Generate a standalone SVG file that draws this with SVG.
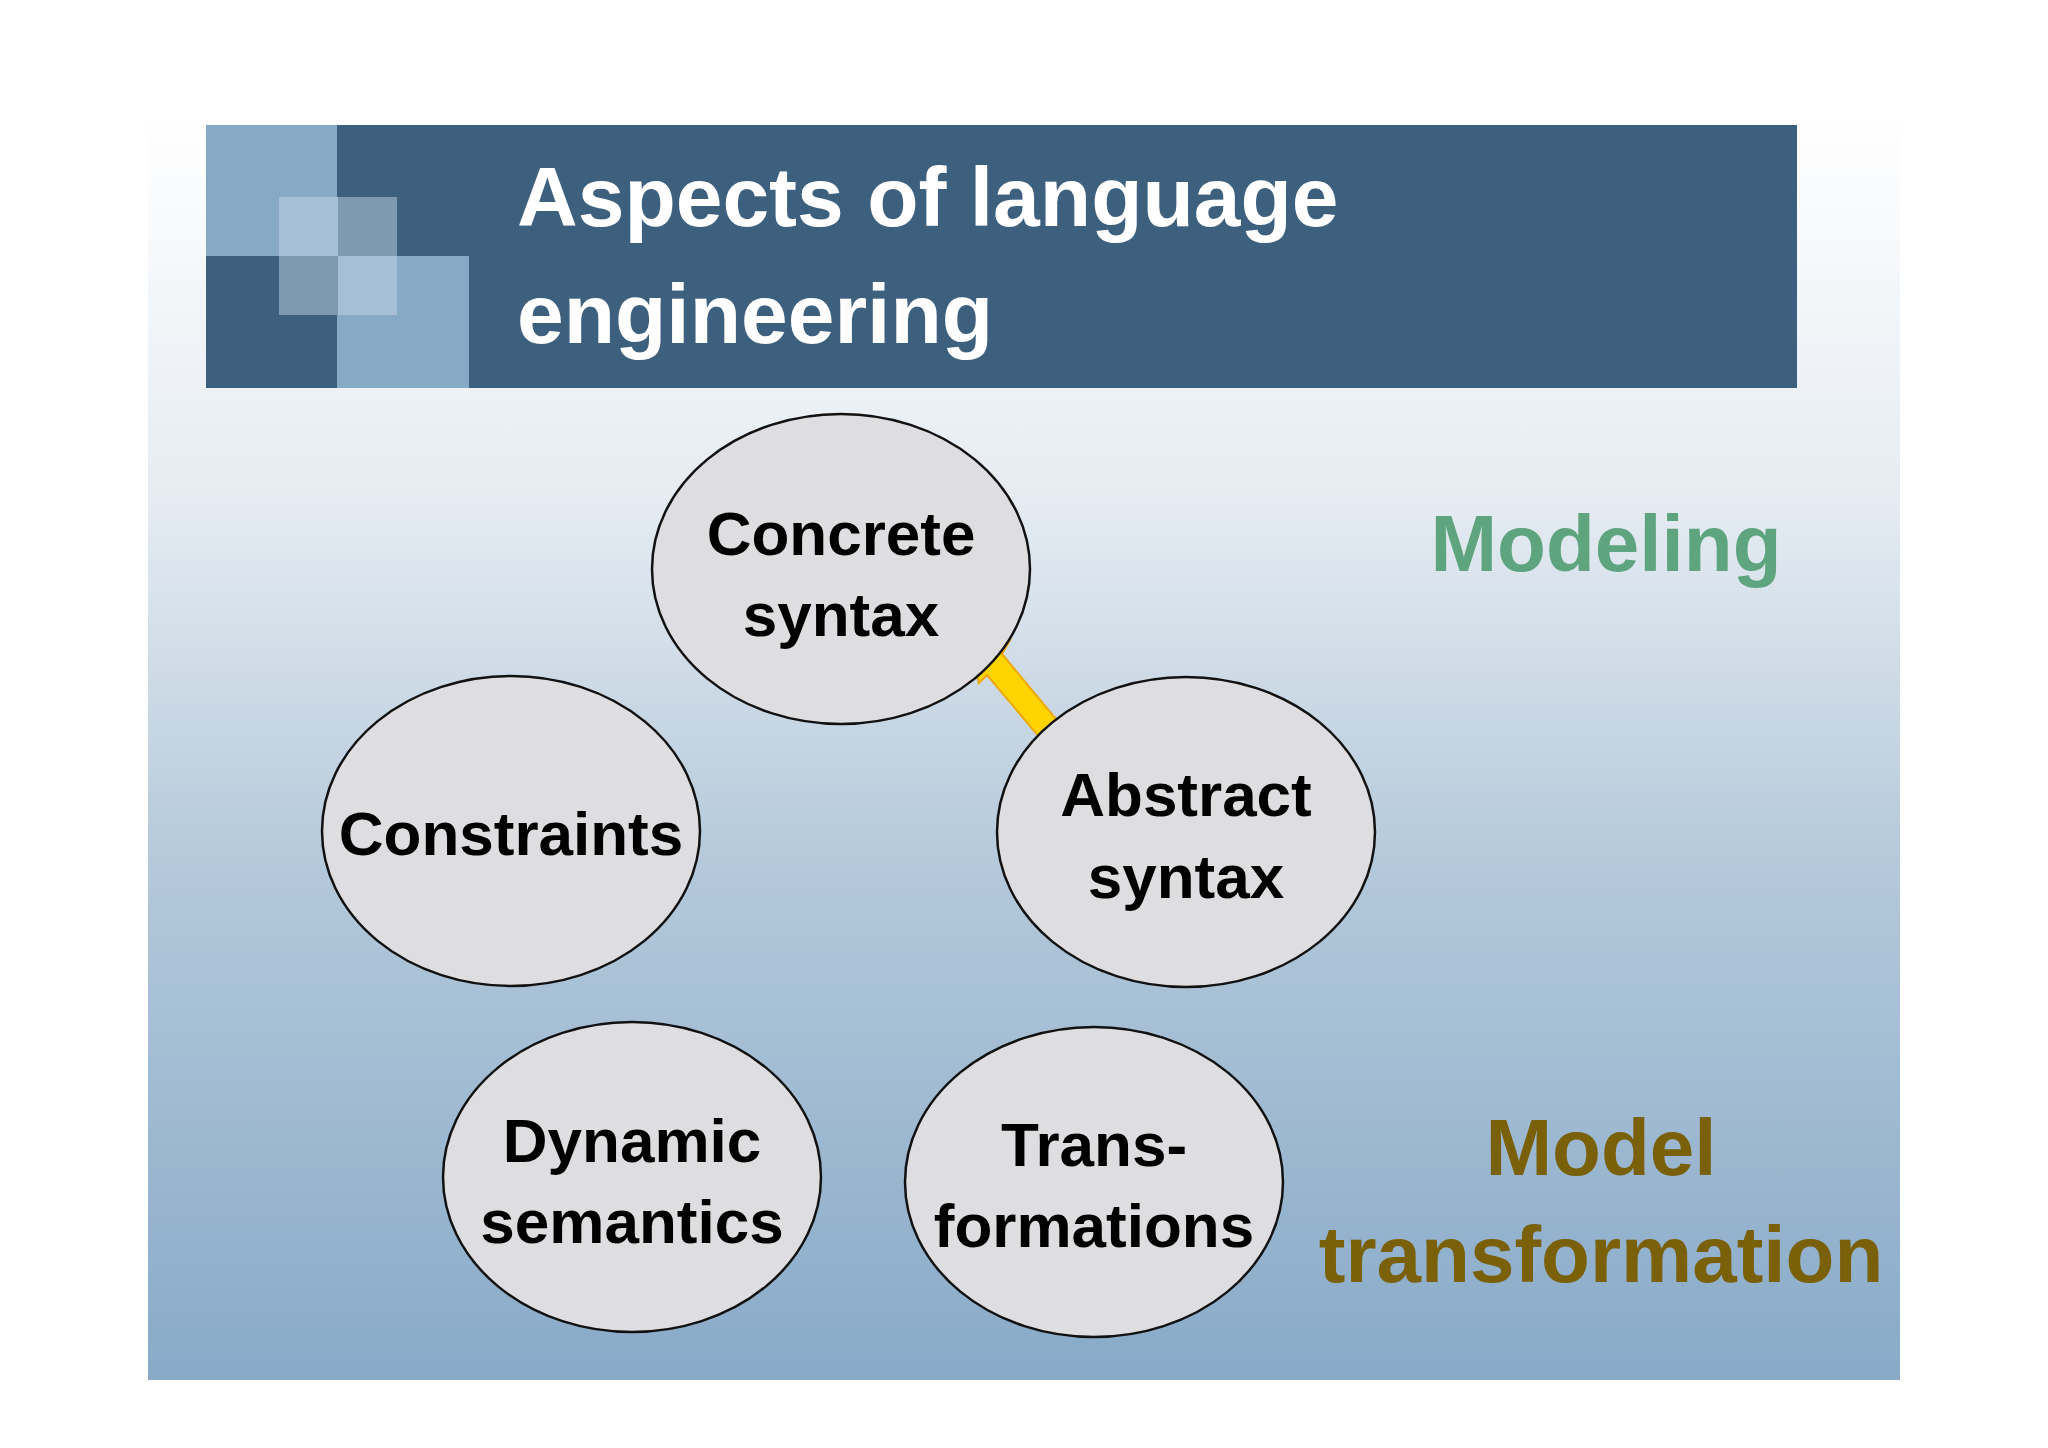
<svg xmlns="http://www.w3.org/2000/svg" width="2048" height="1448" viewBox="0 0 2048 1448">
<defs>
<linearGradient id="bg" x1="0" y1="0" x2="0" y2="1">
<stop offset="0" stop-color="#ffffff"/>
<stop offset="0.3" stop-color="#e6ecf2"/>
<stop offset="0.6" stop-color="#b3c8da"/>
<stop offset="1" stop-color="#88aac8"/>
</linearGradient>
<style>
.n{fill:#dedde0;stroke:#111;stroke-width:2.5}
.t{font-family:"Liberation Sans Narrow","Liberation Sans",sans-serif;font-weight:bold;font-size:62px;fill:#000;text-anchor:middle}
.h{font-family:"Liberation Sans Narrow","Liberation Sans",sans-serif;font-weight:bold;font-size:84px;fill:#fff}
.s{font-family:"Liberation Sans Narrow","Liberation Sans",sans-serif;font-weight:bold;font-size:80px;text-anchor:middle}
</style>
</defs>
<rect width="2048" height="1448" fill="#fff"/>
<rect x="148" y="115" width="1752" height="1265" fill="url(#bg)"/>
<g id="header">
<rect x="206" y="125" width="1591" height="263" fill="#3d607f"/>
<rect x="206" y="125" width="131" height="131" fill="#86a9c6"/>
<rect x="337" y="256" width="132" height="132" fill="#86a9c6"/>
<rect x="279" y="197" width="59" height="59" fill="#a7bfd6"/>
<rect x="338" y="197" width="59" height="59" fill="#7e9ab2"/>
<rect x="279" y="256" width="59" height="59" fill="#7e9ab2"/>
<rect x="338" y="256" width="59" height="59" fill="#a7bfd6"/>
<text class="h" x="517" y="226">Aspects of language</text>
<text class="h" x="517" y="343">engineering</text>
</g>
<g id="connectors">
<polygon points="970,650 1010,640 1002,654 1060,724 1071,715 1078,747 1038,757 1046,745 987,675 979,683" fill="#ffd400" stroke="#f0a800" stroke-width="2"/>
</g>
<g id="concrete"><ellipse class="n" cx="841" cy="569" rx="189" ry="155"/><text class="t" x="841" y="555">Concrete</text><text class="t" x="841" y="636">syntax</text></g>
<g id="constraints"><ellipse class="n" cx="511" cy="831" rx="189" ry="155"/><text class="t" x="511" y="855">Constraints</text></g>
<g id="abstract"><ellipse class="n" cx="1186" cy="832" rx="189" ry="155"/><text class="t" x="1186" y="816">Abstract</text><text class="t" x="1186" y="898">syntax</text></g>
<g id="dynamic"><ellipse class="n" cx="632" cy="1177" rx="189" ry="155"/><text class="t" x="632" y="1162">Dynamic</text><text class="t" x="632" y="1243">semantics</text></g>
<g id="trans"><ellipse class="n" cx="1094" cy="1182" rx="189" ry="155"/><text class="t" x="1094" y="1166">Trans-</text><text class="t" x="1094" y="1247">formations</text></g>
<text class="s" x="1606" y="571" fill="#5ea47e">Modeling</text>
<text class="s" x="1601" y="1175" fill="#7a6008">Model</text>
<text class="s" x="1601" y="1282" fill="#7a6008">transformation</text>
</svg>
